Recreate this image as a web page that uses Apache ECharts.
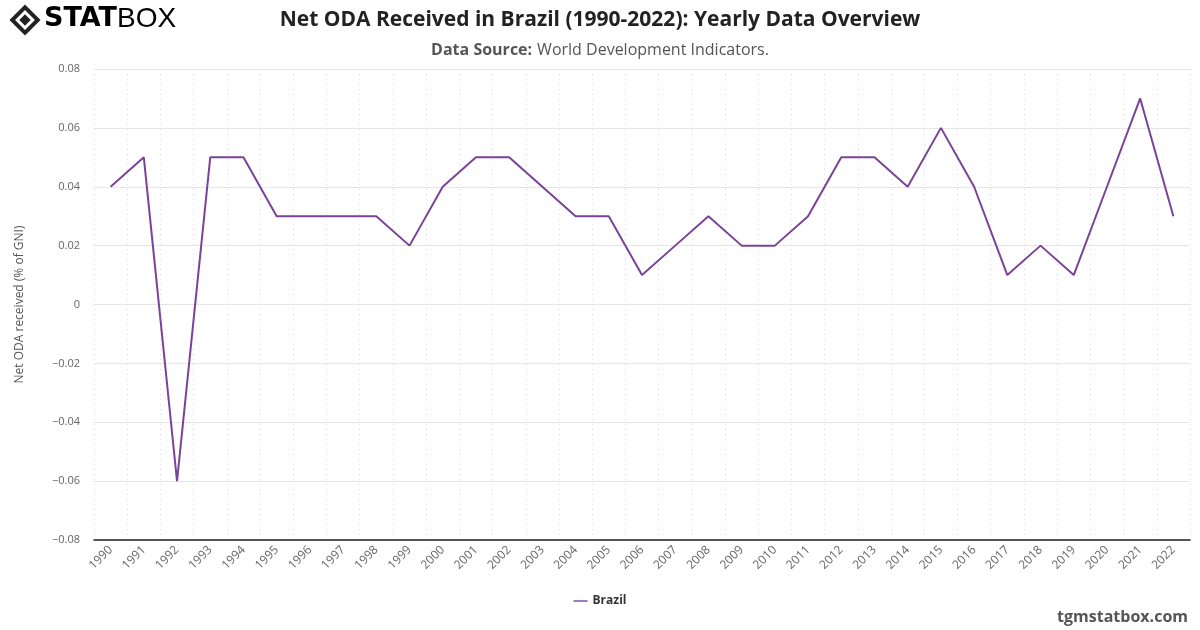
<!DOCTYPE html>
<html>
<head>
<meta charset="utf-8">
<script src="https://cdn.jsdelivr.net/npm/echarts@6/dist/echarts.min.js"></script>
<style>
  html, body { margin: 0; padding: 0; background: #fff; }
  #main { width: 1200px; height: 630px; }
</style>
</head>
<body>
<div id="main"></div>
<script>
const years = [
  "1990", "1991", "1992", "1993", "1994", "1995", "1996", "1997", "1998", "1999",
  "2000", "2001", "2002", "2003", "2004", "2005", "2006", "2007", "2008", "2009",
  "2010", "2011", "2012", "2013", "2014", "2015", "2016", "2017", "2018", "2019",
  "2020", "2021", "2022"
];
const brazil = [
  0.04, 0.05, -0.06, 0.05, 0.05, 0.03, 0.03, 0.03, 0.03, 0.02,
  0.04, 0.05, 0.05, 0.04, 0.03, 0.03, 0.01, 0.02, 0.03, 0.02,
  0.02, 0.03, 0.05, 0.05, 0.04, 0.06, 0.04, 0.01, 0.02, 0.01,
  0.04, 0.07, 0.03
];

const lineColor = "#7b4397";
const font = "'Open Sans', 'DejaVu Sans', sans-serif";

const myChart = echarts.init(document.getElementById("main"));

const option = {
  backgroundColor: "#fff",
  animation: false,
  title: [
    {
      text: "Net ODA Received in Brazil (1990-2022): Yearly Data Overview",
      left: "center",
      top: 5,
      textStyle: { fontFamily: font, fontSize: 21, fontWeight: "bold", color: "#222" },
    },
    {
      text: "{b|Data Source:} {n|World Development Indicators.}",
      left: "center",
      top: 36,
      textStyle: {
        fontWeight: "normal",
        rich: {
          b: { fontFamily: font, fontSize: 16, fontWeight: "bold", color: "#555" },
          n: { fontFamily: font, fontSize: 16, fontWeight: "normal", color: "#555" },
        },
      },
    },
  ],
  graphic: [
    {
      type: "rect",
      shape: { x: -9, y: -9, width: 18, height: 18 },
      x: 25, y: 20, rotation: Math.PI / 4,
      style: { fill: "none", stroke: "#222", lineWidth: 4 },
    },
    {
      type: "rect",
      shape: { x: -4, y: -4, width: 8, height: 8 },
      x: 25, y: 20, rotation: Math.PI / 4,
      style: { fill: "#222" },
    },
    {
      type: "text",
      left: 44, top: 5,
      style: {
        text: "{a|STAT}{b|BOX}",
        rich: {
          a: { fontFamily: "'DejaVu Sans', sans-serif", fontSize: 27, fontWeight: 900, color: "#222" },
          b: { fontFamily: "'Liberation Sans', sans-serif", fontSize: 28, fontWeight: "normal", color: "#222" },
        },
      },
    },
    {
      type: "text",
      right: 12, top: 609,
      style: {
        text: "tgmstatbox.com",
        fontFamily: font, fontSize: 16, fontWeight: "bold", fill: "#555",
      },
    },
  ],
  legend: {
    bottom: 18,
    left: "center",
    icon: "path://M0,0 L20,0 L20,2 L0,2 Z",
    itemWidth: 14,
    itemHeight: 2,
    textStyle: { fontFamily: font, fontSize: 12, fontWeight: "bold", color: "#333" },
    data: ["Brazil"],
  },
  grid: { left: 94, right: 10, top: 69, bottom: 90 },
  xAxis: {
    type: "category",
    data: years,
    boundaryGap: true,
    axisLine: { onZero: false, lineStyle: { color: "#222", width: 1.5 } },
    axisTick: { show: false },
    axisLabel: { rotate: 45, fontFamily: font, fontSize: 12, color: "#666", margin: 8 },
    splitLine: { show: true, lineStyle: { color: "#ddd", type: [1, 4] } },
  },
  yAxis: {
    type: "value",
    min: -0.08,
    max: 0.08,
    interval: 0.02,
    name: "Net ODA received (% of GNI)",
    nameLocation: "middle",
    nameGap: 68,
    nameTextStyle: { fontFamily: font, fontSize: 12, color: "#555" },
    axisLine: { show: false },
    axisTick: { show: false },
    axisLabel: {
      fontFamily: font, fontSize: 11, color: "#666", margin: 14,
      formatter: (v) => (Math.abs(v) < 1e-9 ? "0" : String(+v.toFixed(2)).replace("-", "\u2212")),
    },
    splitLine: { lineStyle: { color: "#e6e6e6", width: 1 } },
  },
  series: [
    {
      name: "Brazil",
      type: "line",
      data: brazil,
      symbol: "none",
      lineStyle: { color: lineColor, width: 2 },
      itemStyle: { color: lineColor },
    },
  ],
};

myChart.setOption(option);
</script>
</body>
</html>
